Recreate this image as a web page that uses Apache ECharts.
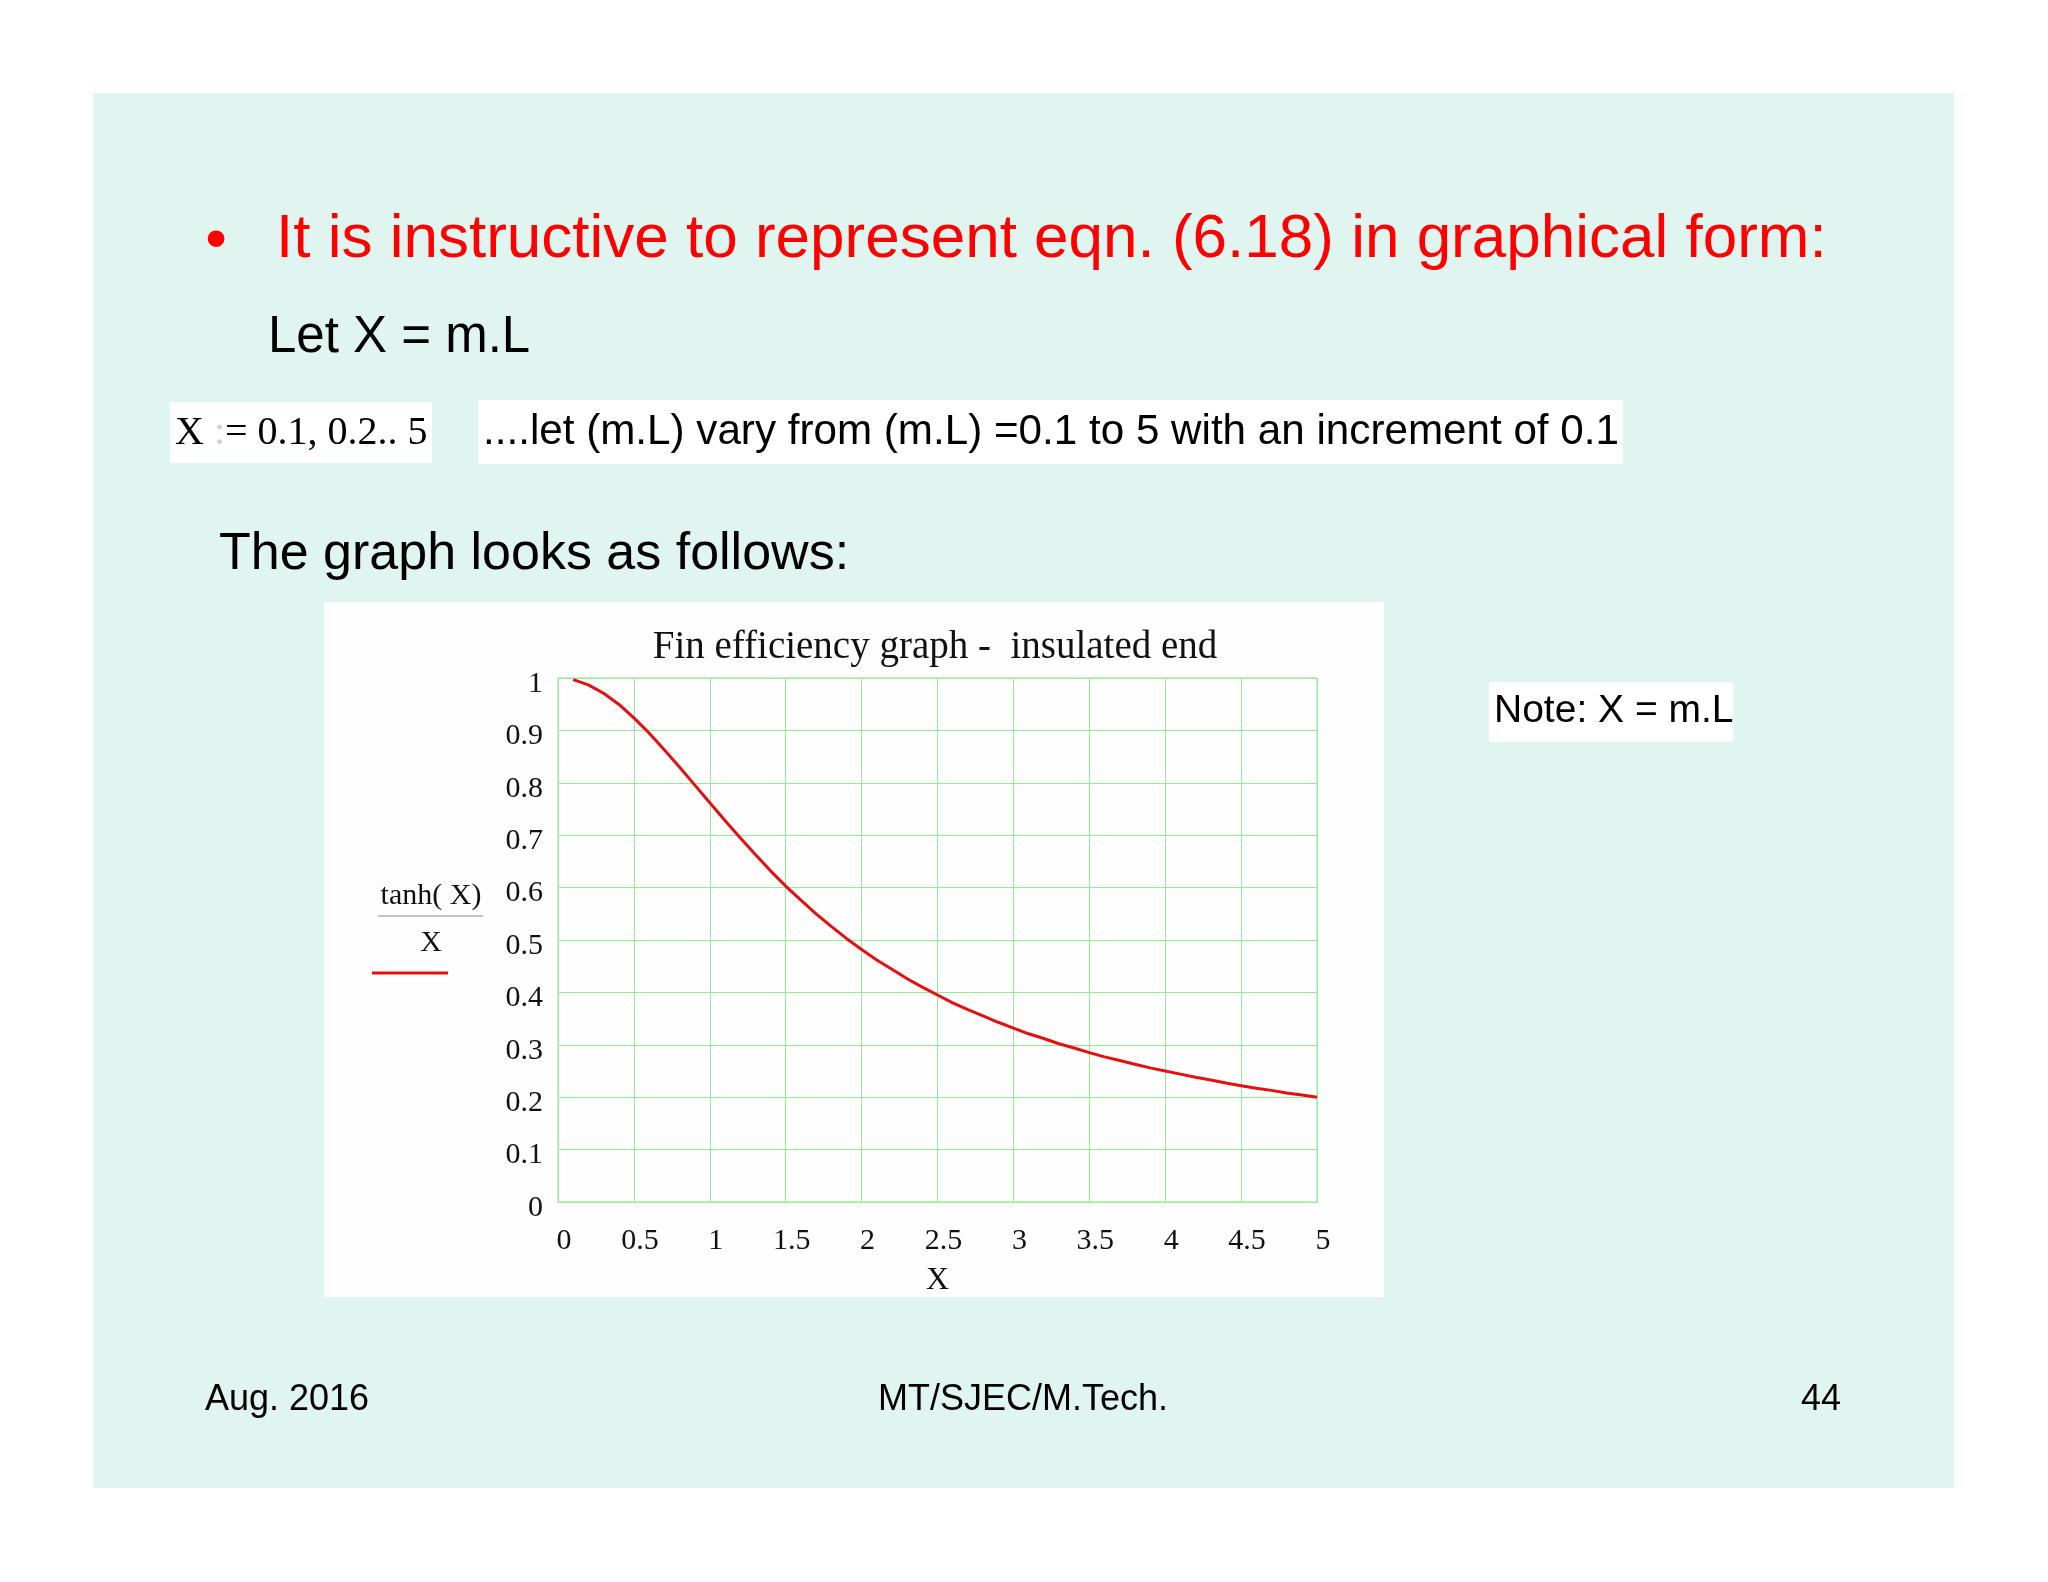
<!DOCTYPE html>
<html>
<head>
<meta charset="utf-8">
<title>Fin efficiency graph</title>
<script src="https://cdn.jsdelivr.net/npm/echarts@6/dist/echarts.min.js"></script>
<style>
  html, body { margin: 0; padding: 0; background: #ffffff; }
  #main { width: 2048px; height: 1582px; }
</style>
</head>
<body>
<div id="main"></div>
<script>
// X = m.L, from 0.1 to 5 step 0.1
var xValues = [0.1, 0.2, 0.3, 0.4, 0.5, 0.6, 0.7, 0.8, 0.9, 1.0,
               1.1, 1.2, 1.3, 1.4, 1.5, 1.6, 1.7, 1.8, 1.9, 2.0,
               2.1, 2.2, 2.3, 2.4, 2.5, 2.6, 2.7, 2.8, 2.9, 3.0,
               3.1, 3.2, 3.3, 3.4, 3.5, 3.6, 3.7, 3.8, 3.9, 4.0,
               4.1, 4.2, 4.3, 4.4, 4.5, 4.6, 4.7, 4.8, 4.9, 5.0];
// tanh(X)/X
var efficiency = [0.997, 0.987, 0.971, 0.950, 0.924, 0.895, 0.863, 0.830, 0.796, 0.762,
                  0.728, 0.695, 0.663, 0.632, 0.603, 0.576, 0.550, 0.526, 0.503, 0.482,
                  0.462, 0.444, 0.426, 0.410, 0.395, 0.380, 0.367, 0.355, 0.343, 0.332,
                  0.321, 0.312, 0.302, 0.294, 0.285, 0.277, 0.270, 0.263, 0.256, 0.250,
                  0.244, 0.238, 0.233, 0.227, 0.222, 0.217, 0.213, 0.208, 0.204, 0.200];
var xTicks = [0, 0.5, 1, 1.5, 2, 2.5, 3, 3.5, 4, 4.5, 5];
var yTicks = [0, 0.1, 0.2, 0.3, 0.4, 0.5, 0.6, 0.7, 0.8, 0.9, 1];

var points = xValues.map(function (x, i) { return [x, efficiency[i]]; });

var SANS = '"Liberation Sans", Arial, sans-serif';
var SERIF = '"Liberation Serif", "Times New Roman", serif';
var GRIDGREEN = '#95e895';

var chart = echarts.init(document.getElementById('main'));

var option = {
    backgroundColor: '#ffffff',
    animation: false,
    title: {
        text: 'Fin efficiency graph -  insulated end',
        left: 930,
        top: 623,
        textAlign: 'center',
        textStyle: { fontFamily: SERIF, fontSize: 39, fontWeight: 'normal', color: '#111' }
    },
    grid: {
        left: 558, top: 678, width: 759, height: 524,
        show: true, borderColor: GRIDGREEN, borderWidth: 1, backgroundColor: 'transparent'
    },
    xAxis: {
        type: 'value',
        min: xTicks[0], max: xTicks[xTicks.length - 1], interval: xTicks[1] - xTicks[0],
        name: 'X', nameLocation: 'middle', nameGap: 63,
        nameTextStyle: { fontFamily: SERIF, fontSize: 32, color: '#111' },
        axisLine: { show: true, lineStyle: { color: GRIDGREEN, width: 1 } },
        axisTick: { show: false },
        splitLine: { show: true, lineStyle: { color: GRIDGREEN, width: 1 } },
        axisLabel: { fontFamily: SERIF, fontSize: 30, color: '#111', margin: 24, padding: [0, 0, 0, 12] }
    },
    yAxis: {
        type: 'value',
        min: yTicks[0], max: yTicks[yTicks.length - 1], interval: yTicks[1] - yTicks[0],
        axisLine: { show: true, lineStyle: { color: GRIDGREEN, width: 1 } },
        axisTick: { show: false },
        splitLine: { show: true, lineStyle: { color: GRIDGREEN, width: 1 } },
        axisLabel: { fontFamily: SERIF, fontSize: 30, color: '#111', margin: 15,
            verticalAlign: 'top', lineHeight: 12 }
    },
    series: [{
        name: 'tanh(X)/X',
        type: 'line',
        data: points,
        showSymbol: false,
        lineStyle: { color: '#e41010', width: 3 },
        z: 5
    }],
    graphic: [
        // slide background and boxes
        { type: 'rect', z: -20, shape: { x: 93, y: 93, width: 1861, height: 1395 }, style: { fill: '#e0f5ef' } },
        { type: 'rect', z: -10, shape: { x: 324, y: 602, width: 1060, height: 695 }, style: { fill: '#fefefe' } },
        { type: 'rect', z: -10, shape: { x: 170, y: 402, width: 262, height: 61 }, style: { fill: '#ffffff' } },
        { type: 'rect', z: -10, shape: { x: 478, y: 400, width: 1145, height: 64 }, style: { fill: '#ffffff' } },
        { type: 'rect', z: -10, shape: { x: 1489, y: 682, width: 244, height: 60 }, style: { fill: '#ffffff' } },

        // heading
        { type: 'text', style: { text: '\u2022', x: 216, y: 242, fill: '#ff0000', fontFamily: SANS, fontSize: 62,
            textAlign: 'center', textVerticalAlign: 'middle' } },
        { type: 'text', style: { text: 'It is instructive to represent eqn. (6.18) in graphical form:', x: 276, y: 240,
            fill: '#ff0000', fontFamily: SANS, fontSize: 62, textAlign: 'left', textVerticalAlign: 'middle' } },
        { type: 'text', style: { text: 'Let X = m.L', x: 268, y: 338, fill: '#000', fontFamily: SANS, fontSize: 51,
            textAlign: 'left', textVerticalAlign: 'middle' } },
        { type: 'text', style: {
            text: '{a|X }{b|:}{a|= 0.1, 0.2.. 5}', x: 175, y: 433, textAlign: 'left', textVerticalAlign: 'middle',
            rich: {
                a: { fontFamily: SERIF, fontSize: 40, fill: '#000' },
                b: { fontFamily: SERIF, fontSize: 40, fill: '#cfcfcf' }
            } } },
        { type: 'text', style: { text: '....let (m.L) vary from (m.L) =0.1 to 5 with an increment of 0.1', x: 483, y: 432,
            fill: '#000', fontFamily: SANS, fontSize: 42.2, textAlign: 'left', textVerticalAlign: 'middle' } },
        { type: 'text', style: { text: 'The graph looks as follows:', x: 219, y: 555, fill: '#000', fontFamily: SANS,
            fontSize: 52, textAlign: 'left', textVerticalAlign: 'middle' } },
        { type: 'text', style: { text: 'Note: X = m.L', x: 1494, y: 711, fill: '#000', fontFamily: SANS, fontSize: 39,
            textAlign: 'left', textVerticalAlign: 'middle' } },

        // legend: tanh(X) over X with the red line sample
        { type: 'text', style: { text: 'tanh( X)', x: 431, y: 896, fill: '#111', fontFamily: SERIF, fontSize: 30,
            textAlign: 'center', textVerticalAlign: 'middle' } },
        { type: 'line', shape: { x1: 378, y1: 916, x2: 483, y2: 916 }, style: { stroke: '#888', lineWidth: 1 } },
        { type: 'text', style: { text: 'X', x: 431, y: 943, fill: '#111', fontFamily: SERIF, fontSize: 30,
            textAlign: 'center', textVerticalAlign: 'middle' } },
        { type: 'line', shape: { x1: 372, y1: 973, x2: 448, y2: 973 }, style: { stroke: '#e41010', lineWidth: 3 } },

        // footer
        { type: 'text', style: { text: 'Aug. 2016', x: 205, y: 1400, fill: '#000', fontFamily: SANS, fontSize: 36,
            textAlign: 'left', textVerticalAlign: 'middle' } },
        { type: 'text', style: { text: 'MT/SJEC/M.Tech.', x: 1023, y: 1400, fill: '#000', fontFamily: SANS, fontSize: 36,
            textAlign: 'center', textVerticalAlign: 'middle' } },
        { type: 'text', style: { text: '44', x: 1841, y: 1400, fill: '#000', fontFamily: SANS, fontSize: 36,
            textAlign: 'right', textVerticalAlign: 'middle' } }
    ]
};

chart.setOption(option);
</script>
</body>
</html>
